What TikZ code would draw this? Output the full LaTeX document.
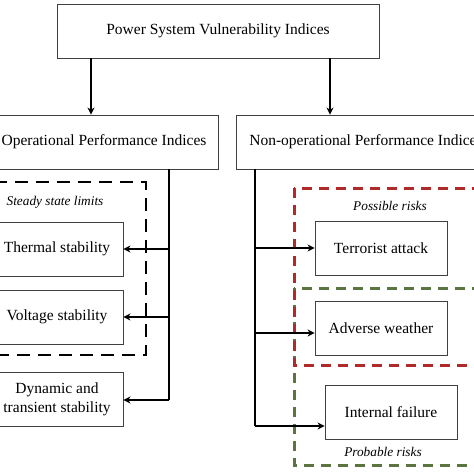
\documentclass[tikz,border=0pt]{standalone}
\usepackage{fontspec}
\setmainfont{Liberation Serif}
\usetikzlibrary{arrows.meta}
\definecolor{riskred}{HTML}{B02A2A}
\definecolor{riskgreen}{HTML}{5B7540}

\begin{document}
\begin{tikzpicture}
[x=1pt, y=-1pt,
 every node/.style={font=\fontsize{15.5}{19}\selectfont, align=center},
 box/.style={draw=black!75, line width=0.9pt, minimum height=54pt, inner sep=0pt},
 tag/.style={font=\fontsize{13.3}{15}\selectfont\itshape},
 link/.style={line width=1.7pt},
 arrow/.style={link, -{Stealth[length=7pt, width=7pt]}},
 limits/.style={line width=2.6pt, dash pattern=on 13pt off 8pt},
 risks/.style={line width=3pt, dash pattern=on 10pt off 7pt}]
\useasboundingbox (0,0) rectangle (474,474);
\clip (0,0) rectangle (474,474);
% frames round the groups
\draw [limits] (-20,182) rectangle (146,355);
\draw [risks, draw=riskgreen] (294,288) rectangle (500,465);
\draw [risks, draw=riskred] (294,188) rectangle (500,365);
% boxes
\node (psvi) at (218,31) [box, minimum width=322pt] {Power System Vulnerability Indices};
\node (opi) at (104,142) [box, minimum width=228pt] {Operational Performance Indices};
\node (nopi) at (366,142) [box, minimum width=260pt] {Non-operational Performance Indices};
\node (thermal) at (57,249) [box, minimum width=132pt] {Thermal stability};
\node (voltage) at (57,317) [box, minimum width=132pt] {Voltage stability};
\node (dynamic) at (57,399) [box, minimum width=132pt] {Dynamic and\\transient stability};
\node (terror) at (381,248) [box, minimum width=132pt] {Terrorist attack};
\node (weather) at (381,328) [box, minimum width=132pt] {Adverse weather};
\node (failure) at (391,412) [box, minimum width=132pt] {Internal failure};
% group labels
\node (steady) at (55,202) [tag] {Steady state limits};
\node (possible) at (390,206) [tag] {Possible risks};
\node (probable) at (383,452) [tag] {Probable risks};
% connectors
\coordinate (ldrop) at (91,0);
\coordinate (rdrop) at (330,0);
\coordinate (ltrunk) at (169,400);
\coordinate (rtrunk) at (255,426);
\draw [arrow] (psvi.south -| ldrop) -- (opi.north -| ldrop);
\draw [arrow] (psvi.south -| rdrop) -- (nopi.north -| rdrop);
\draw [link] (opi.south -| ltrunk) -- (ltrunk);
\draw [arrow] (ltrunk |- thermal) -- (thermal.east);
\draw [arrow] (ltrunk |- voltage) -- (voltage.east);
\draw [arrow] (ltrunk) -- (ltrunk -| dynamic.east);
\draw [link] (nopi.south -| rtrunk) -- (rtrunk);
\draw [arrow] (rtrunk |- terror) -- (terror.west);
\draw [arrow] (rtrunk |- 0,333) -- (weather.west |- 0,333);
\draw [arrow] (rtrunk) -- (rtrunk -| failure.west);
\end{tikzpicture}
\end{document}
